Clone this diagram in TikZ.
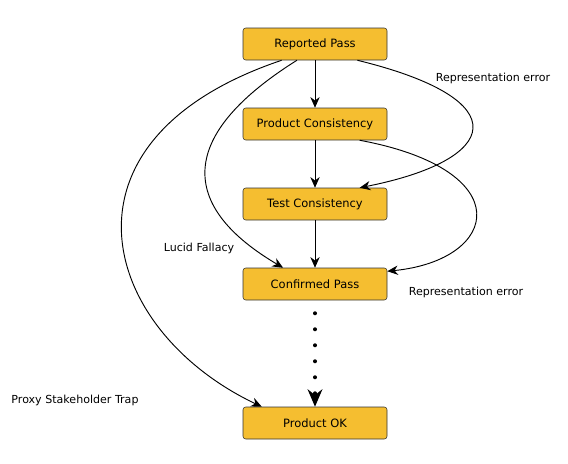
\documentclass[tikz,border=0pt]{standalone}
\usepackage{fontspec}
\setmainfont{DejaVu Sans}
\usepackage{xcolor}
\usetikzlibrary{arrows.meta}

\definecolor{passgold}{HTML}{F5BE30}

\begin{document}
\begin{tikzpicture}[x=0.75pt,y=-0.75pt,node distance = 60pt,inner sep=1pt,
  >={Stealth[length=8pt,width=7pt]},
  stage/.style={draw=black!80,fill=passgold,rounded corners=2pt,minimum width=108pt,minimum height=24pt,font=\fontsize{8.6}{10}\selectfont},
  lbl/.style={font=\fontsize{8.3}{10}\selectfont},
  flow/.style={->,line width=0.7pt}]
\useasboundingbox (0,0) rectangle (568,464);

\node[stage] (rep) at (315,44) {Reported Pass};
\node[stage] (pcons) [below of = rep] {Product Consistency};
\node[stage] (tcons) [below of = pcons] {Test Consistency};
\node[stage] (conf) [below of = tcons] {Confirmed Pass};
\node[stage] (ok) at (315,423) {Product OK};

\path (rep) edge [flow] (pcons);
\path (pcons) edge [flow] (tcons);
\path (tcons) edge [flow] (conf);
\draw [line width=3pt,line cap=round,dash pattern=on 0pt off 12pt,dash phase=2.25pt,
  -{Stealth[length=13pt,width=11pt]}] (conf) -- (ok);

\draw [flow] (rep.206) .. controls (45,140) and (100,330) .. (ok.163);
\draw [flow] (rep.222) .. controls (170,140) and (185,210) .. (conf.153);
\draw [flow] (rep.339) .. controls (520,100) and (500,160) .. (tcons.20);
\draw [flow] (pcons.340) .. controls (520,170) and (500,260) .. (conf.10);

\node[lbl] (err1) at (493,78) {Representation error};
\node[lbl] (lucid) at (199,248) {Lucid Fallacy};
\node[lbl] (err2) at (466,292) {Representation error};
\node[lbl] (proxy) at (75,400) {Proxy Stakeholder Trap};
\end{tikzpicture}
\end{document}
